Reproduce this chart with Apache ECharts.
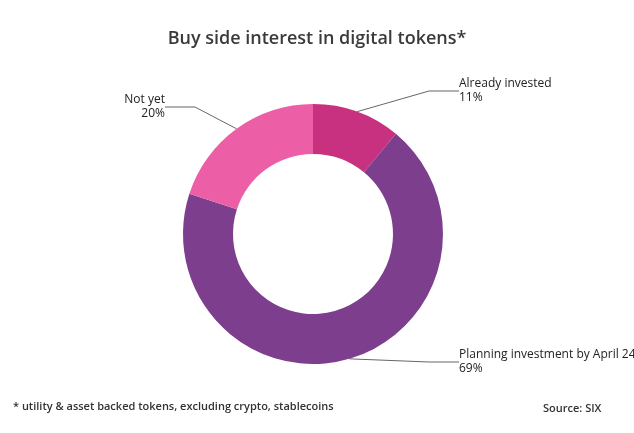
<!DOCTYPE html>
<html><head><meta charset="utf-8">
<script src="https://cdn.jsdelivr.net/npm/echarts@6/dist/echarts.min.js"></script>
<style>html,body{margin:0;background:#fff}#c{width:634px;height:433px}</style>
</head><body><div id="c"></div>
<script>
const categories = ["Already invested", "Planning investment by April 24", "Not yet"];
const values = [11, 69, 20];
const colors = ["#c8317f", "#7d3f8d", "#ec5fa6"];
const labelPos = [
  {x: 459, y: 91, align: 'left'},
  {x: 459, y: 362, align: 'left'},
  {x: 165, y: 107, align: 'right'}
];
const chart = echarts.init(document.getElementById('c'));
chart.setOption({
  animation: false,
  title: [{
    text: "Buy side interest in digital tokens*", left: 'center', top: 25,
    textStyle: {fontFamily: 'Open Sans', fontSize: 18, fontWeight: 600, color: '#3a3a3a'}
  }, {
    text: "* utility & asset backed tokens, excluding crypto, stablecoins", left: 8, top: 396,
    textStyle: {fontFamily: 'Open Sans', fontSize: 11, fontWeight: 600, color: '#333'}
  }, {
    text: "Source: SIX", left: 538, top: 398,
    textStyle: {fontFamily: 'Open Sans', fontSize: 11, fontWeight: 600, color: '#333'}
  }],
  series: [{
    type: 'pie', center: [313, 234], radius: [80, 130], startAngle: 90, clockwise: true,
    data: categories.map((n, i) => ({name: n, value: values[i], itemStyle: {color: colors[i]}})),
    label: {
      formatter: p => p.name + '\n' + p.value + '%',
      fontFamily: 'Open Sans', fontSize: 12, color: '#222', lineHeight: 14
    },
    labelLine: {show: true, lineStyle: {color: '#666', width: 1}},
    labelLayout: p => ({x: labelPos[p.dataIndex].x, y: labelPos[p.dataIndex].y, align: labelPos[p.dataIndex].align, verticalAlign: 'middle'})
  }]
});
</script></body></html>
